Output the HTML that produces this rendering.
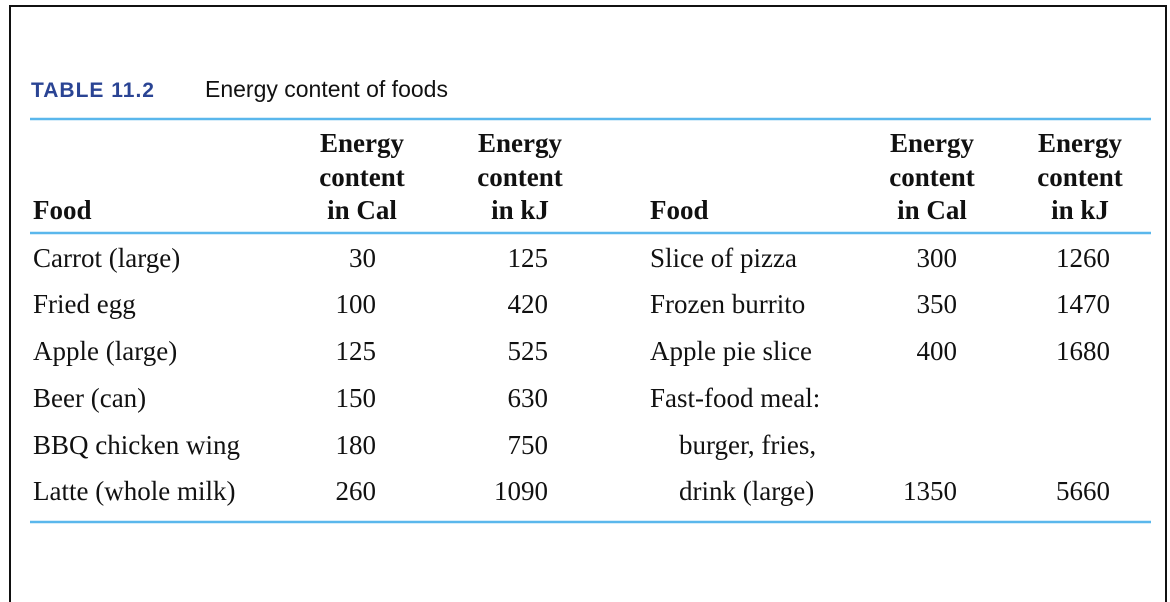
<!DOCTYPE html>
<html><head><meta charset="utf-8"><style>
html,body{margin:0;padding:0;background:#fff;width:1170px;height:602px;overflow:hidden}
svg text{font-family:"Liberation Serif",serif;fill:#111}
.h{font-weight:bold;font-size:27px}
.c{font-size:27px}
.s{font-family:"Liberation Sans",sans-serif !important}
</style></head><body>
<svg width="1170" height="602" viewBox="0 0 1170 602">
<rect x="0" y="0" width="1170" height="602" fill="#fff"/>
<line x1="10" y1="6" x2="10" y2="602" stroke="#111" stroke-width="2"/>
<line x1="9" y1="6" x2="1167" y2="6" stroke="#111" stroke-width="2"/>
<line x1="1166" y1="5" x2="1166" y2="602" stroke="#111" stroke-width="2"/>
<text x="31" y="97" class="s" style="font-size:21px;font-weight:bold;fill:#2a4494;letter-spacing:1px">TABLE 11.2</text>
<text x="205" y="97" class="s" style="font-size:23px">Energy content of foods</text>
<line x1="30" y1="119" x2="1151" y2="119" stroke="#5ab7ec" stroke-width="2.5"/>
<line x1="30" y1="233" x2="1151" y2="233" stroke="#5ab7ec" stroke-width="2.5"/>
<line x1="30" y1="522" x2="1151" y2="522" stroke="#5ab7ec" stroke-width="2.5"/>
<g class="h">
<text x="33" y="219" class="h">Food</text>
<text x="362" y="152" class="h" text-anchor="middle">Energy</text>
<text x="362" y="186" class="h" text-anchor="middle">content</text>
<text x="362" y="219" class="h" text-anchor="middle">in Cal</text>
<text x="520" y="152" class="h" text-anchor="middle">Energy</text>
<text x="520" y="186" class="h" text-anchor="middle">content</text>
<text x="520" y="219" class="h" text-anchor="middle">in kJ</text>
<text x="650" y="219" class="h">Food</text>
<text x="932" y="152" class="h" text-anchor="middle">Energy</text>
<text x="932" y="186" class="h" text-anchor="middle">content</text>
<text x="932" y="219" class="h" text-anchor="middle">in Cal</text>
<text x="1080" y="152" class="h" text-anchor="middle">Energy</text>
<text x="1080" y="186" class="h" text-anchor="middle">content</text>
<text x="1080" y="219" class="h" text-anchor="middle">in kJ</text>
</g>
<g class="c">
<text x="33" y="267" class="c">Carrot (large)</text><text x="376" y="267" class="c" text-anchor="end">30</text><text x="548" y="267" class="c" text-anchor="end">125</text>
<text x="33" y="313" class="c">Fried egg</text><text x="376" y="313" class="c" text-anchor="end">100</text><text x="548" y="313" class="c" text-anchor="end">420</text>
<text x="33" y="360" class="c">Apple (large)</text><text x="376" y="360" class="c" text-anchor="end">125</text><text x="548" y="360" class="c" text-anchor="end">525</text>
<text x="33" y="407" class="c">Beer (can)</text><text x="376" y="407" class="c" text-anchor="end">150</text><text x="548" y="407" class="c" text-anchor="end">630</text>
<text x="33" y="454" class="c">BBQ chicken wing</text><text x="376" y="454" class="c" text-anchor="end">180</text><text x="548" y="454" class="c" text-anchor="end">750</text>
<text x="33" y="500" class="c">Latte (whole milk)</text><text x="376" y="500" class="c" text-anchor="end">260</text><text x="548" y="500" class="c" text-anchor="end">1090</text>
<text x="650" y="267" class="c">Slice of pizza</text><text x="957" y="267" class="c" text-anchor="end">300</text><text x="1110" y="267" class="c" text-anchor="end">1260</text>
<text x="650" y="313" class="c">Frozen burrito</text><text x="957" y="313" class="c" text-anchor="end">350</text><text x="1110" y="313" class="c" text-anchor="end">1470</text>
<text x="650" y="360" class="c">Apple pie slice</text><text x="957" y="360" class="c" text-anchor="end">400</text><text x="1110" y="360" class="c" text-anchor="end">1680</text>
<text x="650" y="407" class="c">Fast-food meal:</text>
<text x="679" y="454" class="c">burger, fries,</text>
<text x="679" y="500" class="c">drink (large)</text><text x="957" y="500" class="c" text-anchor="end">1350</text><text x="1110" y="500" class="c" text-anchor="end">5660</text>
</g>
</svg>
</body></html>
